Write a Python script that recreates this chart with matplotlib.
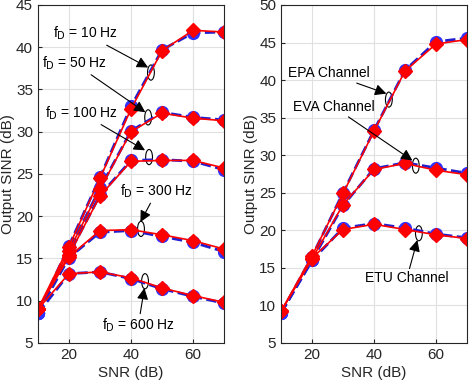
import numpy as np
import matplotlib.pyplot as plt
from matplotlib.patches import Ellipse

plt.rcParams['font.family'] = ['Liberation Sans', 'DejaVu Sans']
plt.rcParams['font.size'] = 11

# SNR (dB)
snr = [10, 20, 30, 40, 50, 60, 70]

# left panel: output SINR for different Doppler frequencies (blue = circles, red = diamonds)
fd10_b = [8.5, 16.5, 24.6, 33.0, 39.7, 41.7, 41.8]
fd10_r = [9.0, 16.4, 24.5, 32.7, 39.6, 42.0, 41.8]
fd50_b = [8.5, 16.0, 23.3, 30.1, 32.3, 31.7, 31.4]
fd50_r = [9.0, 15.9, 23.2, 30.0, 32.2, 31.6, 31.3]
fd100_b = [8.5, 15.5, 22.5, 26.6, 26.7, 26.5, 25.5]
fd100_r = [9.0, 15.4, 22.4, 26.5, 26.6, 26.6, 25.7]
fd300_b = [8.5, 15.1, 18.1, 18.3, 17.6, 16.9, 15.8]
fd300_r = [9.0, 15.2, 18.3, 18.4, 17.8, 17.1, 16.1]
fd600_b = [8.5, 13.2, 13.4, 12.6, 11.4, 10.5, 9.7]
fd600_r = [9.0, 13.2, 13.4, 12.7, 11.5, 10.6, 9.8]

# right panel: channel models
epa_b = [9.0, 16.5, 25.0, 33.3, 41.3, 45.1, 45.6]
epa_r = [9.2, 16.6, 24.9, 33.2, 41.2, 44.8, 45.4]
eva_b = [9.0, 16.0, 23.3, 28.2, 29.0, 28.3, 27.6]
eva_r = [9.2, 16.2, 23.4, 28.1, 28.9, 28.0, 27.4]
etu_b = [9.0, 16.0, 20.3, 20.9, 20.3, 19.5, 19.0]
etu_r = [9.2, 16.3, 20.1, 20.8, 20.1, 19.4, 18.9]

fig = plt.figure(figsize=(4.74, 3.84), dpi=100)
ax1 = fig.add_axes([0.080, 0.107, 0.393, 0.880])
ax2 = fig.add_axes([0.593, 0.107, 0.392, 0.880])


def draw(ax, pairs):
    for b, r in pairs:
        ax.plot(snr, b, '--o', color='#1f1fd0', lw=2.0, ms=8.5, mec='#3030ff', mfc='#3030ff')
    for b, r in pairs:
        ax.plot(snr, r, '-D', color='red', lw=1.2, ms=7, mfc='red', mec='red')
    ax.set_xlim(10, 70)
    ax.set_xticks([20, 40, 60])
    ax.grid(True, color='#e0e0e0', lw=0.8)
    ax.set_axisbelow(True)
    ax.tick_params(direction='in', length=3, colors='#262626', labelcolor='#262626', labelsize=11)
    for s in ax.spines.values():
        s.set_color('#262626')
        s.set_linewidth(0.8)
    ax.set_xlabel('SNR (dB)', color='#262626', labelpad=3, fontsize=11)
    ax.set_ylabel('Output SINR (dB)', color='#262626', labelpad=1, fontsize=11)


def note(ax, text, xytext, xy, center, w, h, ha='left'):
    ax.annotate(text, xy=xy, xytext=xytext, ha=ha, va='center', fontsize=10,
                arrowprops=dict(arrowstyle='-|>', color='black', lw=0.8,
                                mutation_scale=17, shrinkA=0, shrinkB=0))
    ax.add_patch(Ellipse(center, w, h, fill=False, ec='black', lw=0.8))


draw(ax1, [(fd10_b, fd10_r), (fd50_b, fd50_r), (fd100_b, fd100_r),
           (fd300_b, fd300_r), (fd600_b, fd600_r)])
ax1.set_ylim(5, 45)
ax1.set_yticks(range(5, 46, 5))

note(ax1, r'f$_\mathrm{D}$ = 10 Hz', (14.8, 41.6), (45.5, 37.6), (46.4, 37.0), 2.2, 1.8)
note(ax1, r'f$_\mathrm{D}$ = 50 Hz', (11.3, 38.1), (44.6, 32.3), (45.5, 31.7), 2.2, 1.8)
note(ax1, r'f$_\mathrm{D}$ = 100 Hz', (12.3, 32.2), (44.5, 27.8), (45.8, 27.0), 2.2, 1.8)
note(ax1, r'f$_\mathrm{D}$ = 300 Hz', (36.5, 22.9), (43.0, 19.3), (43.2, 18.5), 2.2, 1.8)
note(ax1, r'f$_\mathrm{D}$ = 600 Hz', (30.6, 7.1), (44.3, 11.5), (44.5, 12.3), 2.2, 1.8)

draw(ax2, [(epa_b, epa_r), (eva_b, eva_r), (etu_b, etu_r)])
ax2.set_ylim(5, 50)
ax2.set_yticks(range(5, 51, 5))

note(ax2, 'EPA Channel', (12.3, 40.9), (44.0, 38.2), (44.8, 37.4), 2.2, 2.0)
note(ax2, 'EVA Channel', (13.9, 36.4), (52.4, 29.3), (53.5, 28.6), 2.2, 2.0)
note(ax2, 'ETU Channel', (37.1, 13.6), (54.0, 18.7), (54.5, 19.6), 2.2, 2.0)

fig.savefig('out.png', dpi=100)
